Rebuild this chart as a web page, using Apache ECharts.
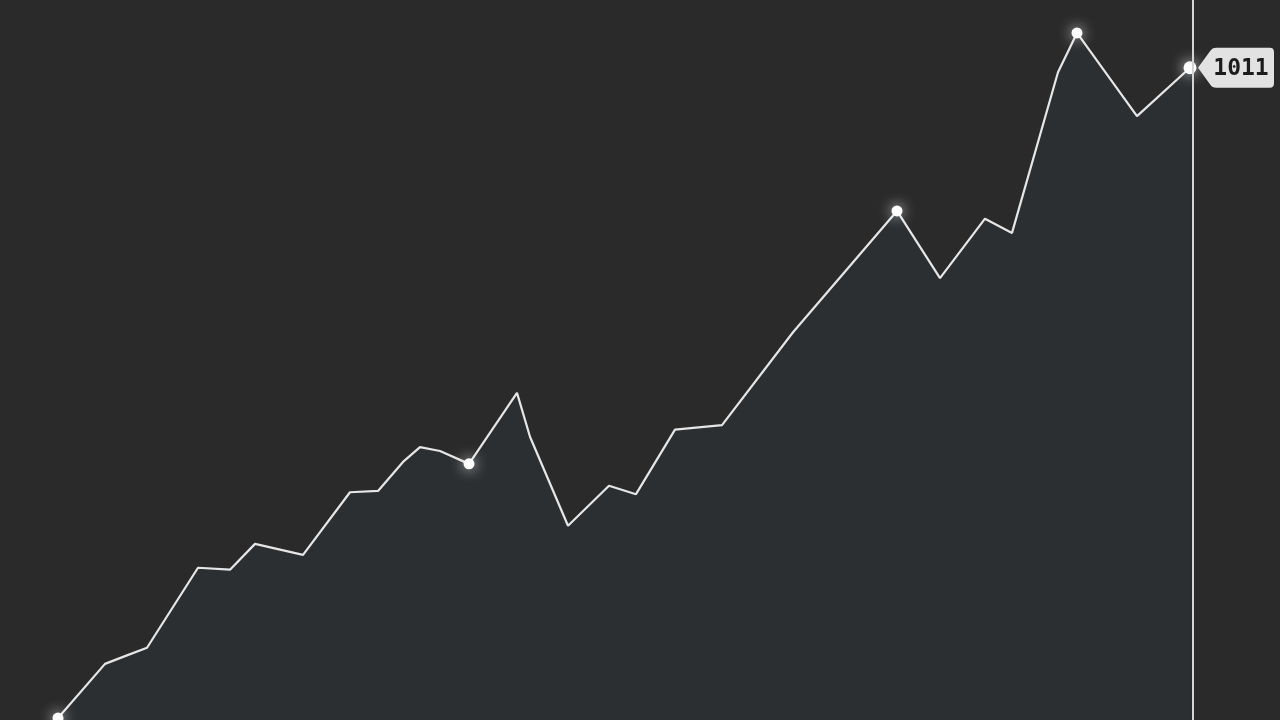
<!DOCTYPE html>
<html>
<head>
<meta charset="utf-8">
<script src="https://cdn.jsdelivr.net/npm/echarts@6/dist/echarts.min.js"></script>
<style>html,body{margin:0;padding:0;background:#2a2a2a;}#c{width:1280px;height:720px;}</style>
</head>
<body>
<div id="c"></div>
<script>
// time steps (x) and values (y)
const times = [5.8,10.5,12.5,14.7,19.8,23.0,25.5,30.3,35.0,37.8,40.3,42.0,44.0,46.9,51.7,53.0,56.8,60.9,63.6,67.5,72.2,79.3,89.7,94.0,98.5,101.2,105.8,107.7,113.7,119.0];
const values = [3,87,99,112,236,233,273,256,353,355,400,423,417,397,507,439,301,363,350,450,457,601,789,685,777,755,1004,1065,936,1011];
const highlighted = [0,13,22,27,29];
const cursorTime = 119.3;
const lastLabel = '1011';

const data = times.map((t,i)=>{
  const item = {value:[t, values[i]]};
  if (highlighted.includes(i)) {
    item.symbol = 'circle';
    item.symbolSize = (i === times.length-1) ? 13 : 11;
  } else {
    item.symbol = 'none';
  }
  return item;
});

const chart = echarts.init(document.getElementById('c'));
chart.setOption({
  backgroundColor:'#2a2a2a',
  animation:false,
  grid:{left:0,right:0,top:0,bottom:0},
  xAxis:{type:'value',min:0,max:128,show:false},
  yAxis:{type:'value',min:0,max:1116,show:false},
  series:[{
    type:'line',
    data:data,
    showSymbol:true,
    lineStyle:{color:'#e6e6e6',width:2.2},
    itemStyle:{color:'#ffffff',shadowBlur:14,shadowColor:'rgba(255,255,255,0.9)'},
    areaStyle:{color:'#2c2f32',opacity:1},
    markLine:{
      silent:true,
      symbol:['none','none'],
      label:{show:false},
      lineStyle:{color:'#d4d4d4',width:2,type:'solid'},
      data:[{xAxis:cursorTime}]
    },
    markPoint:{
      silent:true,
      symbol:'path://M0,20 L12,5 Q14,2 18,2 L71,2 Q75,2 75,6 L75,34 Q75,38 71,38 L18,38 Q14,38 12,35 Z',
      symbolSize:[76,40],
      symbolKeepAspect:false,
      itemStyle:{color:'#e2e2e2'},
      label:{show:true,formatter:lastLabel,color:'#1c1c1c',fontFamily:'DejaVu Sans Mono',fontWeight:'bold',fontSize:23,offset:[5,1]},
      data:[{coord:[times[times.length-1],values[values.length-1]],symbolOffset:[46,0]}]
    }
  }]
});
</script>
</body>
</html>
